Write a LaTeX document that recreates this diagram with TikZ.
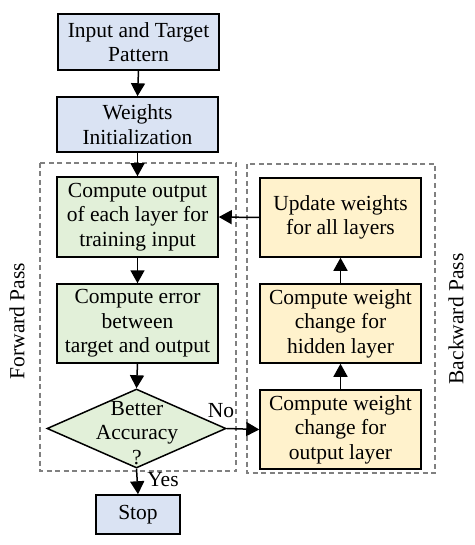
\documentclass[tikz,border=0pt]{standalone}
\usepackage{fontspec}
\setmainfont{Liberation Serif}
\usetikzlibrary{shapes.geometric,arrows.meta}
\definecolor{bluefill}{HTML}{DAE3F3}
\definecolor{greenfill}{HTML}{E2F0D9}
\definecolor{yellowfill}{HTML}{FFF2CC}
\definecolor{dashgray}{HTML}{808080}
\tikzset{
  box/.style={draw=black, line width=1.5pt, inner sep=0pt, align=center,
    font=\fontsize{21.5}{24.5}\selectfont},
  bluebox/.style={box, fill=bluefill},
  greenbox/.style={box, fill=greenfill},
  yellowbox/.style={box, fill=yellowfill},
  decision/.style={draw=black, line width=1.5pt, diamond, fill=greenfill, inner sep=0pt},
  txt/.style={align=center, inner sep=0pt, font=\fontsize{21.5}{24.5}\selectfont},
  group/.style={draw=dashgray, line width=1.2pt, dash pattern=on 5pt off 3.5pt},
  conn/.style={line width=1.5pt, -{Triangle[width=14pt,length=13pt]}},
}
\begin{document}
\begin{tikzpicture}[x=1pt,y=-1pt]
\useasboundingbox (0,0) rectangle (474,545);
% groups
\draw[group] (40,163) rectangle (236,471);
\draw[group] (247,164) rectangle (435,473);
\node[txt, rotate=90] (fp) at (17,321) {Forward Pass};
\node[txt, rotate=90] (bp) at (456,319) {Backward Pass};
% nodes
\node[bluebox, minimum width=161pt, minimum height=56pt] (inp) at (138.5,42) {Input and Target\\Pattern};
\node[bluebox, minimum width=161pt, minimum height=55pt] (wi) at (137.5,124.5) {Weights\\Initialization};
\node[greenbox, minimum width=161pt, minimum height=80pt] (co) at (137.5,217) {Compute output\\of each layer for\\training input};
\node[greenbox, minimum width=161pt, minimum height=79pt] (ce) at (137.5,323.5) {Compute error\\between\\target and output};
\node[decision, minimum width=179pt, minimum height=79pt] (dec) at (136.5,428.5) {};
\node[txt] (dect) at (137,433) {Better\\Accuracy\\?};
\node[bluebox, minimum width=84pt, minimum height=39pt] (stop) at (138,514.5) {Stop};
\node[yellowbox, minimum width=161pt, minimum height=79pt] (uw) at (340.5,217.5) {Update weights\\for all layers};
\node[yellowbox, minimum width=161pt, minimum height=79pt] (ch) at (340.5,323.5) {Compute weight\\change for\\hidden layer};
\node[yellowbox, minimum width=161pt, minimum height=79pt] (cw) at (340.5,429.5) {Compute weight\\change for\\output layer};
% connectors
\draw[conn] (inp.south) -- (wi.north);
\draw[conn] (wi.south) -- (co.north);
\draw[conn] (co.south) -- (ce.north);
\draw[conn] (ce.south) -- (dec.north);
\draw[conn] (dec.south) -- (stop.north);
\node[txt] (yes) at (163,480) {Yes};
\draw[conn] (dec.east) -- (cw.west);
\node[txt] (no) at (221,411) {No};
\draw[conn] (cw.north) -- (ch.south);
\draw[conn] (ch.north) -- (uw.south);
\draw[conn] (uw.west) -- (co.east);
\end{tikzpicture}
\end{document}
